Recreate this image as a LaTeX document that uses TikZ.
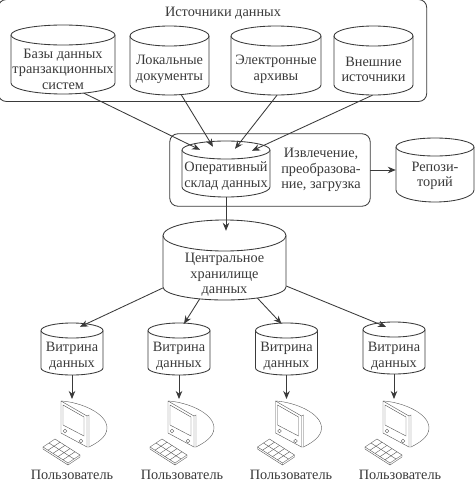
\documentclass[tikz,border=0pt]{standalone}
\usepackage{fontspec}
\setmainfont{Liberation Serif}
\usetikzlibrary{calc,arrows.meta}
\definecolor{ink}{HTML}{3A3A3A}
\tikzset{
  ln/.style={draw=ink,line width=0.85pt},
  arr/.style={ln,-{Stealth[length=8pt,width=6.5pt]}},
  lbl/.style={text=ink,font=\fontsize{14.3}{15.6}\selectfont,align=center,inner sep=0pt},
  thin/.style={draw=ink!85,line width=0.4pt},
  container/.style={ln,rounded corners=8pt},
  cylbox/.style={minimum width=0pt,inner sep=0pt,draw=none}
}
% name, cx, top y, side-top y(ellipse centre), side-bottom y, bottom y, rx, text centre y, text
\newcommand{\cyl}[9]{%
  \pgfmathsetmacro{\ryy}{#4-#3}%
  \pgfmathsetmacro{\rby}{#6-#5}%
  \draw[ln,fill=white] (#2-#7,#4) -- (#2-#7,#5) arc[start angle=180,end angle=360,x radius=#7,y radius=-\rby]
    -- (#2+#7,#4);
  \draw[ln,fill=white] (#2,#4) ellipse[x radius=#7,y radius=\ryy];
  \node[cylbox,minimum width=#7*2pt,minimum height=#6*1pt-#3*1pt] (#1) at (#2,{(#3+#6)/2}) {};
  \node[lbl] (#1t) at (#2,#8) {#9};
}
\newcommand{\comp}[2]{%
  \begin{scope}[shift={(#1,0)}]
    \draw[thin,fill=white] (-11,401) .. controls (8,402) and (35,413) .. (35,428) .. controls (35,437) and (25,443) .. (17,447) -- (15,447) -- (-11,433) -- cycle;
    \draw[thin] (-11,401) -- (15,416) -- (15,447);
    \draw[thin] (15,416) -- (17,415) -- (17,447);
    \draw[thin] (-9,405) -- (12,417) -- (12,436) -- (-9,425) -- cycle;
    \draw[thin] (-7,431) circle[radius=1.8];
    \draw[thin] (9,441) circle[radius=1.8];
    \draw[thin,fill=white] (-29,447) -- (-17,439) -- (8,455) -- (-4,463) -- cycle;
    \draw[thin] (-29,447) -- (-29,449) -- (-4,465) -- (8,457) -- (8,455) (-4,463) -- (-4,465);
    \foreach \t in {0.2,0.4,0.6,0.8} \draw[thin] ($(-29,447)!\t!(-4,463)$) -- ($(-17,439)!\t!(8,455)$);
    \draw[thin] ($(-29,447)!0.5!(-17,439)$) -- ($(-4,463)!0.5!(8,455)$);
  \end{scope}
  \node[lbl] at (#2,475) {Пользователь};
}
\begin{document}
\begin{tikzpicture}[x=1pt,y=-1pt]
\useasboundingbox (0,0) rectangle (474,490);
\fill[white] (0,0) rectangle (474,490);
\node[draw=none,inner sep=0pt,minimum width=428pt,minimum height=101.5pt] (srcbox) at (212.5,50.5) {};
\draw[container] (srcbox.north west) rectangle (srcbox.south east);
\node[lbl] (srct) at (223,13) {Источники данных};
\node[draw=none,inner sep=0pt,minimum width=200pt,minimum height=72pt] (etl) at (270,170) {};
\draw[container] (etl.north west) rectangle (etl.south east);
\cyl{db1}{63}{25}{35}{83}{94}{52}{69}{Базы данных\\транзакционных\\систем}
\cyl{db2}{169.5}{26}{36}{85}{95}{39.5}{69.5}{Локальные\\документы}
\cyl{db3}{276}{26}{36}{85}{95}{45}{69.5}{Электронные\\архивы}
\cyl{db4}{373.5}{26}{36}{85}{95}{39.5}{69.5}{Внешние\\источники}
\cyl{op}{226}{141}{150}{187}{197}{44}{176}{Оперативный\\склад данных}
\node[lbl,align=center] (etlt) at (321,170) {Извлечение,\\преобразова-\\ние, загрузка};
\cyl{repo}{435}{138}{147}{190}{202}{39}{176}{Репози-\\торий}
\cyl{cen}{224.5}{220}{235.5}{287}{300}{61.5}{275}{Центральное\\хранилище\\данных}
\cyl{v1}{72}{323}{330.5}{368}{375}{31}{356}{Витрина\\данных}
\cyl{v2}{179}{323}{330.5}{368}{375}{31}{356}{Витрина\\данных}
\cyl{v3}{286.5}{323}{330.5}{368}{375}{31}{356}{Витрина\\данных}
\cyl{v4}{394}{322}{329.5}{367}{374}{31}{356}{Витрина\\данных}
\draw[arr] ($(db1.south)+(21,-1)$) -- ($(op.north)+(-26,9)$);
\draw[arr] ($(db2.south)+(12,0)$) -- ($(op.north)+(-13,6)$);
\draw[arr] ($(db3.south)+(1,0)$) -- ($(op.north)+(9,8)$);
\draw[arr] ($(db4.south)+(-1,0)$) -- ($(op.north)+(26,10)$);
\draw[arr] (etl.east) -- (repo.west);
\draw[arr] (op.south) -- ($(cen.north)+(1.5,11)$);
\draw[arr] ($(cen.west)+(0,28)$) -- ($(v1.north)+(8,4)$);
\draw[arr] ($(cen.south)+(-25,-1)$) -- ($(v2.north)+(5,1)$);
\draw[arr] ($(cen.south)+(33,-2)$) -- ($(v3.north)+(-5,1)$);
\draw[arr] ($(cen.east)+(0,26)$) -- ($(v4.north)+(-8,5)$);
\comp{72}{72}\comp{179}{182}\comp{286.5}{291}\comp{394}{400}
\coordinate (c1) at (72,399);\coordinate (c2) at (179,399);\coordinate (c3) at (286.5,399);\coordinate (c4) at (394,399);
\draw[arr] (v1.south) -- (c1);
\draw[arr] (v2.south) -- (c2);
\draw[arr] (v3.south) -- (c3);
\draw[arr] (v4.south) -- (c4);
\end{tikzpicture}
\end{document}
